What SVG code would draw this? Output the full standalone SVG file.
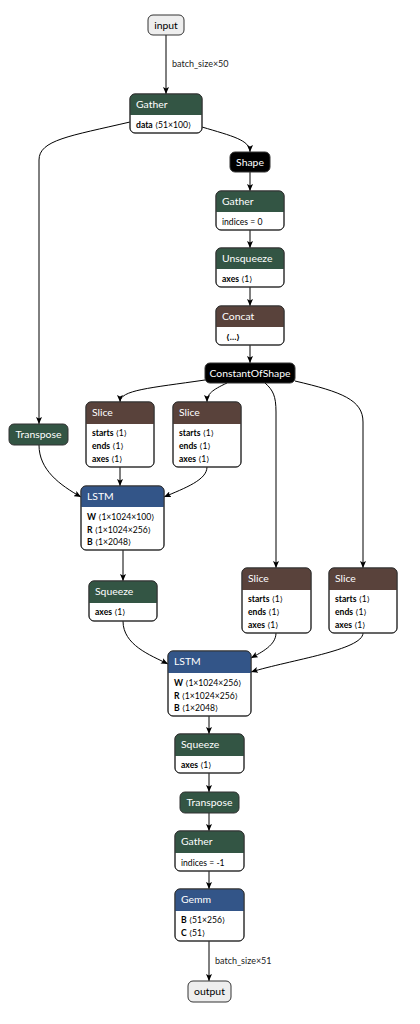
<svg xmlns="http://www.w3.org/2000/svg" width="420" height="1024" viewBox="0 0 420 1024">
<style>
.bg{fill:#fff}
.box{fill:#fff;stroke:#333;stroke-width:1}
.io{fill:#eee;stroke:#333;stroke-width:1}
.blk{fill:#000;stroke:#333;stroke-width:1}
.tr{fill:#335544}
.ts{fill:#59423b}
.ly{fill:#335588}
.ht{font-family:Lato,"Liberation Sans",sans-serif;font-size:10.4px;fill:#fff}
.it{font-family:Lato,"Liberation Sans",sans-serif;font-size:10.4px;fill:#000}
.at{font-family:Lato,"DejaVu Sans",sans-serif;font-size:8.6px;fill:#000}
.b{font-weight:bold}
.br{font-family:"DejaVu Sans",sans-serif;font-size:8px}
.el{font-family:Lato,"Liberation Sans",sans-serif;font-size:9px;fill:#222}
.e{fill:none;stroke:#000;stroke-width:1}
</style>
<defs>
<marker id="ar" markerUnits="userSpaceOnUse" markerWidth="8" markerHeight="6" refX="7" refY="3" orient="auto">
<path d="M0,0 L7,3 L0,6 L1.5,3 Z" fill="#000"/>
</marker>
</defs>
<rect class="bg" x="0" y="0" width="420" height="1024"/>
<g id="edges">
<path class="e" marker-end="url(#ar)" d="M166,35 V94"/>
<text class="el" x="172" y="67">batch_size×50</text>
<path class="e" marker-end="url(#ar)" d="M202,127 C232,136 250,140 250,152"/>
<path class="e" marker-end="url(#ar)" d="M130,122 C70,136 39,140 39,160 L39,424"/>
<path class="e" marker-end="url(#ar)" d="M250,172 V191"/>
<path class="e" marker-end="url(#ar)" d="M250,230 V248"/>
<path class="e" marker-end="url(#ar)" d="M250,287 V306"/>
<path class="e" marker-end="url(#ar)" d="M250,345 V363"/>
<path class="e" marker-end="url(#ar)" d="M205,380 C150,388 120,390 120,402"/>
<path class="e" marker-end="url(#ar)" d="M227,383 C212,390 207,394 207,402"/>
<path class="e" marker-end="url(#ar)" d="M265,383 C273,390 276,396 276,412 L276,568"/>
<path class="e" marker-end="url(#ar)" d="M295,381 C342,392 363,400 363,422 L363,568"/>
<path class="e" marker-end="url(#ar)" d="M39,445 C39,470 60,485 81,497"/>
<path class="e" marker-end="url(#ar)" d="M120,467 V486"/>
<path class="e" marker-end="url(#ar)" d="M207,467 C207,480 185,488 164,497"/>
<path class="e" marker-end="url(#ar)" d="M123,550 V581"/>
<path class="e" marker-end="url(#ar)" d="M123,621 C123,645 150,655 168,664"/>
<path class="e" marker-end="url(#ar)" d="M276,633 C276,645 262,652 251,658"/>
<path class="e" marker-end="url(#ar)" d="M363,633 C363,650 290,660 251,672"/>
<path class="e" marker-end="url(#ar)" d="M209,716 V734"/>
<path class="e" marker-end="url(#ar)" d="M209,773 V792"/>
<path class="e" marker-end="url(#ar)" d="M209,813 V831"/>
<path class="e" marker-end="url(#ar)" d="M209,871 V889"/>
<path class="e" marker-end="url(#ar)" d="M209,941 V981"/>
<text class="el" x="215" y="964">batch_size×51</text>
</g>
<g id="input">
<rect class="io" x="148" y="15" width="36" height="20" rx="5"/>
<text class="it" x="166" y="29" text-anchor="middle">input</text>
</g>
<g id="gather1">
<rect class="box" x="130" y="94" width="72" height="39" rx="5"/>
<path class="tr" d="M130,115 V99 Q130,94 135,94 H197 Q202,94 202,99 V115 Z"/>
<rect x="130" y="94" width="72" height="39" rx="5" fill="none" stroke="#333"/>
<text class="ht" x="136" y="108">Gather</text>
<text class="at" x="136" y="128"><tspan class="b">data</tspan> <tspan class="br">⟨</tspan>51×100<tspan class="br">⟩</tspan></text>
</g>
<g id="shape">
<rect class="blk" x="230" y="152" width="40" height="20" rx="5"/>
<text class="ht" x="250" y="166" text-anchor="middle">Shape</text>
</g>
<g id="gather2">
<rect class="box" x="216" y="191" width="68" height="39" rx="5"/>
<path class="tr" d="M216,212 V196 Q216,191 221,191 H279 Q284,191 284,196 V212 Z"/>
<rect x="216" y="191" width="68" height="39" rx="5" fill="none" stroke="#333"/>
<text class="ht" x="222" y="205">Gather</text>
<text class="at" x="222" y="225">indices = 0</text>
</g>
<g id="unsqueeze">
<rect class="box" x="216" y="248" width="68" height="39" rx="5"/>
<path class="tr" d="M216,269 V253 Q216,248 221,248 H279 Q284,248 284,253 V269 Z"/>
<rect x="216" y="248" width="68" height="39" rx="5" fill="none" stroke="#333"/>
<text class="ht" x="222" y="262">Unsqueeze</text>
<text class="at" x="222" y="282"><tspan class="b">axes</tspan> <tspan class="br">⟨</tspan>1<tspan class="br">⟩</tspan></text>
</g>
<g id="concat">
<rect class="box" x="216" y="306" width="68" height="39" rx="5"/>
<path class="ts" d="M216,327 V311 Q216,306 221,306 H279 Q284,306 284,311 V327 Z"/>
<rect x="216" y="306" width="68" height="39" rx="5" fill="none" stroke="#333"/>
<text class="ht" x="222" y="320">Concat</text>
<text class="at b" x="226" y="340"><tspan class="br">⟨</tspan>…<tspan class="br">⟩</tspan></text>
</g>
<g id="constantofshape">
<rect class="blk" x="205" y="363" width="90" height="20" rx="5"/>
<text class="ht" x="250" y="377" text-anchor="middle">ConstantOfShape</text>
</g>
<g id="slice1">
<rect class="box" x="86" y="402" width="68" height="65" rx="5"/>
<path class="ts" d="M86,424 V407 Q86,402 91,402 H149 Q154,402 154,407 V424 Z"/>
<rect x="86" y="402" width="68" height="65" rx="5" fill="none" stroke="#333"/>
<text class="ht" x="92" y="416">Slice</text>
<text class="at" x="92" y="436"><tspan class="b">starts</tspan> <tspan class="br">⟨</tspan>1<tspan class="br">⟩</tspan></text>
<text class="at" x="92" y="449"><tspan class="b">ends</tspan> <tspan class="br">⟨</tspan>1<tspan class="br">⟩</tspan></text>
<text class="at" x="92" y="462"><tspan class="b">axes</tspan> <tspan class="br">⟨</tspan>1<tspan class="br">⟩</tspan></text>
</g>
<g id="slice2">
<rect class="box" x="173" y="402" width="68" height="65" rx="5"/>
<path class="ts" d="M173,424 V407 Q173,402 178,402 H236 Q241,402 241,407 V424 Z"/>
<rect x="173" y="402" width="68" height="65" rx="5" fill="none" stroke="#333"/>
<text class="ht" x="179" y="416">Slice</text>
<text class="at" x="179" y="436"><tspan class="b">starts</tspan> <tspan class="br">⟨</tspan>1<tspan class="br">⟩</tspan></text>
<text class="at" x="179" y="449"><tspan class="b">ends</tspan> <tspan class="br">⟨</tspan>1<tspan class="br">⟩</tspan></text>
<text class="at" x="179" y="462"><tspan class="b">axes</tspan> <tspan class="br">⟨</tspan>1<tspan class="br">⟩</tspan></text>
</g>
<g id="transpose1">
<rect x="9" y="424" width="59" height="21" rx="5" fill="#335544" stroke="#333"/>
<text class="ht" x="38.5" y="438" text-anchor="middle">Transpose</text>
</g>
<g id="lstm1">
<rect class="box" x="81" y="486" width="83" height="64" rx="5"/>
<path class="ly" d="M81,507 V491 Q81,486 86,486 H159 Q164,486 164,491 V507 Z"/>
<rect x="81" y="486" width="83" height="64" rx="5" fill="none" stroke="#333"/>
<text class="ht" x="87" y="500">LSTM</text>
<text class="at" x="87" y="520"><tspan class="b">W</tspan> <tspan class="br">⟨</tspan>1×1024×100<tspan class="br">⟩</tspan></text>
<text class="at" x="87" y="533"><tspan class="b">R</tspan> <tspan class="br">⟨</tspan>1×1024×256<tspan class="br">⟩</tspan></text>
<text class="at" x="87" y="545"><tspan class="b">B</tspan> <tspan class="br">⟨</tspan>1×2048<tspan class="br">⟩</tspan></text>
</g>
<g id="squeeze1">
<rect class="box" x="89" y="581" width="68" height="40" rx="5"/>
<path class="tr" d="M89,603 V586 Q89,581 94,581 H152 Q157,581 157,586 V603 Z"/>
<rect x="89" y="581" width="68" height="40" rx="5" fill="none" stroke="#333"/>
<text class="ht" x="95" y="595">Squeeze</text>
<text class="at" x="95" y="615"><tspan class="b">axes</tspan> <tspan class="br">⟨</tspan>1<tspan class="br">⟩</tspan></text>
</g>
<g id="slice3">
<rect class="box" x="242" y="568" width="69" height="65" rx="5"/>
<path class="ts" d="M242,590 V573 Q242,568 247,568 H306 Q311,568 311,573 V590 Z"/>
<rect x="242" y="568" width="69" height="65" rx="5" fill="none" stroke="#333"/>
<text class="ht" x="248" y="582">Slice</text>
<text class="at" x="248" y="602"><tspan class="b">starts</tspan> <tspan class="br">⟨</tspan>1<tspan class="br">⟩</tspan></text>
<text class="at" x="248" y="615"><tspan class="b">ends</tspan> <tspan class="br">⟨</tspan>1<tspan class="br">⟩</tspan></text>
<text class="at" x="248" y="628"><tspan class="b">axes</tspan> <tspan class="br">⟨</tspan>1<tspan class="br">⟩</tspan></text>
</g>
<g id="slice4">
<rect class="box" x="329" y="568" width="68" height="65" rx="5"/>
<path class="ts" d="M329,590 V573 Q329,568 334,568 H392 Q397,568 397,573 V590 Z"/>
<rect x="329" y="568" width="68" height="65" rx="5" fill="none" stroke="#333"/>
<text class="ht" x="335" y="582">Slice</text>
<text class="at" x="335" y="602"><tspan class="b">starts</tspan> <tspan class="br">⟨</tspan>1<tspan class="br">⟩</tspan></text>
<text class="at" x="335" y="615"><tspan class="b">ends</tspan> <tspan class="br">⟨</tspan>1<tspan class="br">⟩</tspan></text>
<text class="at" x="335" y="628"><tspan class="b">axes</tspan> <tspan class="br">⟨</tspan>1<tspan class="br">⟩</tspan></text>
</g>
<g id="lstm2">
<rect class="box" x="168" y="651" width="83" height="65" rx="5"/>
<path class="ly" d="M168,673 V656 Q168,651 173,651 H246 Q251,651 251,656 V673 Z"/>
<rect x="168" y="651" width="83" height="65" rx="5" fill="none" stroke="#333"/>
<text class="ht" x="174" y="665">LSTM</text>
<text class="at" x="174" y="686"><tspan class="b">W</tspan> <tspan class="br">⟨</tspan>1×1024×256<tspan class="br">⟩</tspan></text>
<text class="at" x="174" y="699"><tspan class="b">R</tspan> <tspan class="br">⟨</tspan>1×1024×256<tspan class="br">⟩</tspan></text>
<text class="at" x="174" y="711"><tspan class="b">B</tspan> <tspan class="br">⟨</tspan>1×2048<tspan class="br">⟩</tspan></text>
</g>
<g id="squeeze2">
<rect class="box" x="175" y="734" width="69" height="39" rx="5"/>
<path class="tr" d="M175,756 V739 Q175,734 180,734 H239 Q244,734 244,739 V756 Z"/>
<rect x="175" y="734" width="69" height="39" rx="5" fill="none" stroke="#333"/>
<text class="ht" x="181" y="748">Squeeze</text>
<text class="at" x="181" y="768"><tspan class="b">axes</tspan> <tspan class="br">⟨</tspan>1<tspan class="br">⟩</tspan></text>
</g>
<g id="transpose2">
<rect x="180" y="792" width="59" height="21" rx="5" fill="#335544" stroke="#333"/>
<text class="ht" x="209.5" y="806" text-anchor="middle">Transpose</text>
</g>
<g id="gather3">
<rect class="box" x="175" y="831" width="69" height="40" rx="5"/>
<path class="tr" d="M175,853 V836 Q175,831 180,831 H239 Q244,831 244,836 V853 Z"/>
<rect x="175" y="831" width="69" height="40" rx="5" fill="none" stroke="#333"/>
<text class="ht" x="181" y="845">Gather</text>
<text class="at" x="181" y="866">indices = -1</text>
</g>
<g id="gemm">
<rect class="box" x="175" y="889" width="69" height="52" rx="5"/>
<path class="ly" d="M175,911 V894 Q175,889 180,889 H239 Q244,889 244,894 V911 Z"/>
<rect x="175" y="889" width="69" height="52" rx="5" fill="none" stroke="#333"/>
<text class="ht" x="181" y="903">Gemm</text>
<text class="at" x="181" y="923"><tspan class="b">B</tspan> <tspan class="br">⟨</tspan>51×256<tspan class="br">⟩</tspan></text>
<text class="at" x="181" y="936"><tspan class="b">C</tspan> <tspan class="br">⟨</tspan>51<tspan class="br">⟩</tspan></text>
</g>
<g id="output">
<rect class="io" x="188" y="981" width="43" height="21" rx="5"/>
<text class="it" x="209.5" y="995" text-anchor="middle">output</text>
</g>
</svg>
